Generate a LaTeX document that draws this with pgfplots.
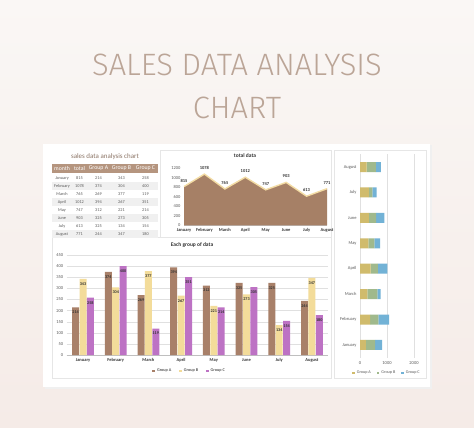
\documentclass[border=0pt]{standalone}
\usepackage{pgfplots}
\pgfplotsset{compat=1.18}
\usepackage{pgfplotstable}
\usepackage{fontspec}
\setmainfont{Carlito}
\newfontfamily\titlefont{Fira Sans Light}

\definecolor{bgtop}{HTML}{FAF7F5}
\definecolor{bgbot}{HTML}{F5EBE7}
\definecolor{titlecol}{HTML}{BBA597}
\definecolor{tabtitle}{HTML}{8C7566}
\definecolor{headcol}{HTML}{B5957F}
\definecolor{rowgray}{HTML}{F0F0F0}
\definecolor{panelline}{HTML}{E6E6E6}
\definecolor{textgray}{HTML}{595959}
\definecolor{textdark}{HTML}{333333}
\definecolor{areabrown}{HTML}{A68066}
\definecolor{arealine}{HTML}{F3DCA4}
\definecolor{barA}{HTML}{A88069}
\definecolor{barB}{HTML}{F3DC9A}
\definecolor{barC}{HTML}{BD72C4}
\definecolor{hA}{HTML}{D0BB6C}
\definecolor{hB}{HTML}{A0B98C}
\definecolor{hC}{HTML}{72B2D6}

\pgfplotstableread{
idx month total A B C
0 January 815 214 343 258
1 February 1078 374 304 400
2 March 765 269 377 119
3 April 1012 394 267 351
4 May 747 312 221 214
5 June 903 325 273 305
6 July 613 325 134 154
7 August 771 244 347 180
}\sales

\pgfplotsset{
  /pgf/number format/1000 sep={},
  /pgf/number format/assume math mode=true,
  small/.style={font=\fontsize{4.5}{5}\selectfont},
}

\begin{document}
\begin{tikzpicture}[x=1bp,y=1bp]
% background and title
\shade[top color=bgtop,bottom color=bgbot] (0,0) rectangle (474,427);
\node[anchor=base,text=titlecol,font=\titlefont\fontsize{31}{31}\selectfont] at (237,352) {SALES DATA ANALYSIS};
\node[anchor=base,text=titlecol,font=\titlefont\fontsize{31}{31}\selectfont] at (237,309) {CHART};

% white card
\fill[black!6] (44.5,38.5) rectangle (431.5,282);
\fill[white] (43,40) rectangle (430,283);
\draw[panelline,line width=0.5bp] (160,277) rectangle (331,190);
\draw[panelline,line width=0.5bp] (52,190) rectangle (331,49);
\draw[panelline,line width=0.5bp] (334,277) rectangle (426,49);

% table
\node[text=tabtitle,font=\fontsize{7}{8}\selectfont] at (105,270) {sales data analysis chart};
\fill[headcol] (52,254) rectangle (158,263);
\foreach \x/\t in {62/month,79.5/total,98.5/Group A,121.5/Group B,145.5/Group C}
  \node[text=white,font=\fontsize{5.8}{6}\selectfont] at (\x,258.5) {\t};
\foreach \i in {1,3,5,7}
  \fill[rowgray] (52,{249-8*\i-4}) rectangle (158,{249-8*\i+4});
\foreach \m/\t/\a/\b/\c [count=\i from 0] in {January/815/214/343/258,February/1078/374/304/400,March/765/269/377/119,April/1012/394/267/351,May/747/312/221/214,June/903/325/273/305,July/613/325/134/154,August/771/244/347/180}{
  \pgfmathsetmacro\yy{249-8*\i}
  \foreach \x/\v in {62/\m,79.5/\t,98.5/\a,121.5/\b,145.5/\c}
    \node[text=textgray,font=\fontsize{4.3}{5}\selectfont] at (\x,\yy) {\v};
}

% area chart
\node[text=textdark,font=\bfseries\fontsize{5.5}{6}\selectfont] at (245,271) {total data};
\begin{axis}[
  at={(184bp,201.7bp)}, anchor=south west,
  scale only axis, width=143bp, height=57bp,
  xmin=0, xmax=7, ymin=0, ymax=1200,
  xtick={0,...,7}, xticklabels from table={\sales}{month},
  ytick={0,200,...,1200},
  axis x line*=bottom, axis y line*=left,
  y axis line style={draw=none},
  x axis line style={draw=black!25},
  major tick length=0,
  yticklabel style={small,text=textgray},
  xticklabel style={small,text=textdark,font=\bfseries\fontsize{4.5}{5}\selectfont},
  clip=false,
]
\addplot[fill=areabrown,draw=none] table[x=idx,y=total]{\sales} \closedcycle;
\addplot[draw=arealine,line width=1.4bp,mark=none,
  nodes near coords,
  every node near coord/.append style={text=textdark,font=\bfseries\fontsize{4.5}{5}\selectfont,yshift=0.5bp}]
  table[x=idx,y=total]{\sales};
\end{axis}

% grouped bar chart
\node[text=textdark,font=\bfseries\fontsize{5.5}{6}\selectfont] at (192,182) {Each group of data};
\begin{axis}[
  at={(66.65bp,72bp)}, anchor=south west,
  scale only axis, width=261.6bp, height=100bp,
  xmin=-0.5, xmax=7.5, ymin=0, ymax=450,
  ybar=0.4bp, bar width=7bp,
  xtick={0,...,7}, xticklabels from table={\sales}{month},
  ytick={0,50,...,450},
  ymajorgrids, grid style={draw=black!12,line width=0.3bp},
  axis x line*=bottom, axis y line*=left,
  y axis line style={draw=none},
  x axis line style={draw=black!25},
  major tick length=0,
  yticklabel style={small,text=textgray},
  xticklabel style={text=textdark,font=\bfseries\fontsize{4.5}{5}\selectfont},
  nodes near coords, nodes near coords align={below},
  every node near coord/.append style={text=textdark,font=\bfseries\fontsize{4.2}{5}\selectfont},
  legend style={at={(0.47,-0.16)},anchor=center,legend columns=3,draw=none,fill=none,
    font=\bfseries\fontsize{4.2}{5}\selectfont,text=textgray,
    /tikz/every even column/.append style={column sep=6bp}},
  legend image code/.code={\fill[#1] (0bp,-1.3bp) rectangle (2.6bp,1.3bp);},
]
\addplot[fill=barA,draw=none] table[x=idx,y=A]{\sales};
\addplot[fill=barB,draw=none] table[x=idx,y=B]{\sales};
\addplot[fill=barC,draw=none] table[x=idx,y=C]{\sales};
\legend{Group A,Group B,Group C}
\end{axis}

% stacked horizontal bars
\begin{axis}[
  at={(360bp,69.3bp)}, anchor=south west,
  scale only axis, width=54bp, height=203.4bp,
  xbar stacked, bar width=10bp,
  xmin=0, xmax=2000, ymin=-0.5, ymax=7.5,
  ytick={0,...,7}, yticklabels from table={\sales}{month},
  xtick={0,1000,2000},
  xmajorgrids, grid style={draw=black!12,line width=0.3bp},
  axis line style={draw=none},
  major tick length=0,
  tick label style={small,text=textgray},
  legend style={at={(0.5,-0.075)},anchor=center,legend columns=3,draw=none,fill=none,
    font=\fontsize{4.2}{5}\selectfont,text=textgray,
    /tikz/every even column/.append style={column sep=4bp}},
  legend image code/.code={\fill[#1] (0bp,-1.3bp) rectangle (2.6bp,1.3bp);},
]
\addplot[fill=hA,draw=none] table[x=A,y=idx]{\sales};
\addplot[fill=hB,draw=none] table[x=B,y=idx]{\sales};
\addplot[fill=hC,draw=none] table[x=C,y=idx]{\sales};
\legend{Group A,Group B,Group C}
\end{axis}
\end{tikzpicture}
\end{document}
